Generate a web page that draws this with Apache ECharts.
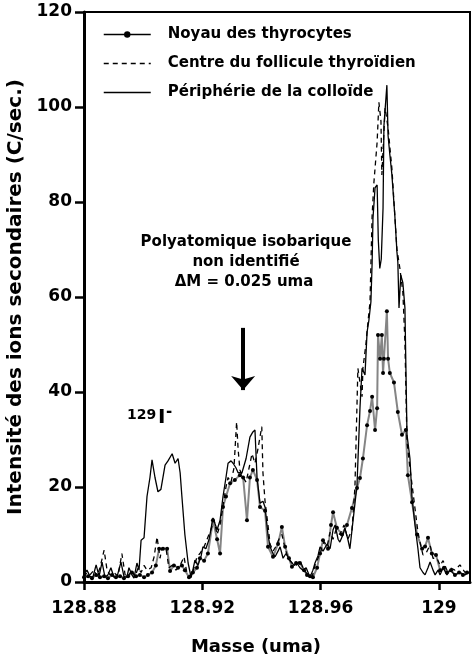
<!DOCTYPE html>
<html>
<head>
<meta charset="utf-8">
<script src="https://cdn.jsdelivr.net/npm/echarts@6/dist/echarts.min.js"></script>
<style>
  html, body { margin: 0; padding: 0; background: #fff; }
  #main { width: 474px; height: 662px; }
</style>
</head>
<body>
<div id="main"></div>
<script>
// tick labels
var xTicks = [128.88, 128.92, 128.96, 129];
var yTicks = [0, 20, 40, 60, 80, 100, 120];

var seriesNames = ['Noyau des thyrocytes', 'Centre du follicule thyroïdien', 'Périphérie de la colloïde'];

// [masse (uma), intensité (C/sec.)]
var noyau = [
  [128.8800,1.0],[128.8814,1.2],[128.8827,0.8],[128.8841,1.5],[128.8854,1.0],[128.8868,1.2],[128.8881,0.8],
  [128.8895,1.5],[128.8908,1.0],[128.8922,1.2],[128.8935,0.8],[128.8949,1.2],[128.8962,2.0],[128.8976,1.2],
  [128.8989,1.5],[128.9003,1.0],[128.9016,1.5],[128.9030,2.0],[128.9043,3.5],[128.9054,7],[128.9067,7],
  [128.9081,7],[128.9091,2.3],[128.9104,3.5],[128.9118,3.0],[128.9131,3.5],[128.9141,2.5],[128.9155,1.0],
  [128.9168,2.0],[128.9182,3.0],[128.9192,5.0],[128.9206,4.5],[128.9219,6],[128.9236,13],[128.9250,9],
  [128.9260,6],[128.9270,15.8],[128.9280,18],[128.9294,20.8],[128.9310,21.5],[128.9327,22.5],[128.9338,22],
  [128.9351,13],[128.9361,22],[128.9371,23.6],[128.9385,21.5],[128.9395,15.8],[128.9412,15],[128.9422,7.4],
  [128.9439,5.3],[128.9456,8],[128.9469,11.6],[128.9480,7.4],[128.9493,5],[128.9503,3.2],[128.9517,4],
  [128.9530,4],[128.9544,2.5],[128.9554,1.5],[128.9564,1.2],[128.9574,1],[128.9588,3],[128.9598,6],
  [128.9608,8.8],[128.9625,7],[128.9635,12],[128.9642,14.7],[128.9655,11.4],[128.9672,10],[128.9689,12],
  [128.9706,15.6],[128.9723,19.8],[128.9733,21.9],[128.9743,26],[128.9757,33],[128.9767,36],[128.9774,39],
  [128.9784,32],[128.9791,36.6],[128.9794,52],[128.9801,47],[128.9807,52],[128.9811,44],[128.9814,47],
  [128.9824,57],[128.9828,47],[128.9834,44],[128.9848,42],[128.9861,35.8],[128.9875,31],[128.9888,32],
  [128.9895,22.5],[128.9909,16.8],[128.9926,10],[128.9943,7],[128.9953,7.5],[128.9963,9.3],[128.9976,6],
  [128.9990,5.7],[129.0004,2.5],[129.0017,3],[129.0027,2],[129.0041,2.5],[129.0054,1.5],[129.0068,2.0],
  [129.0081,1.5],[129.0095,2.0]
];

var centre = [
  [128.8800,1.0],[128.8810,2.0],[128.8820,1.5],[128.8834,2.5],[128.8844,1.2],[128.8854,3.0],[128.8868,6.7],
  [128.8878,2.5],[128.8888,1.5],[128.8901,2.0],[128.8915,1.2],[128.8928,6.0],[128.8939,1.5],[128.8949,1.2],
  [128.8962,2.5],[128.8972,1.0],[128.8983,3.0],[128.8993,2.0],[128.9003,3.5],[128.9013,2.5],[128.9027,3.0],
  [128.9037,5.3],[128.9047,9.5],[128.9057,5.0],[128.9064,7.2],[128.9077,7.2],[128.9087,3.0],[128.9098,3.5],
  [128.9111,2.5],[128.9125,3.5],[128.9138,5.3],[128.9148,1.9],[128.9162,1.0],[128.9172,3.0],[128.9182,5.3],
  [128.9192,6.0],[128.9206,7.4],[128.9216,9],[128.9229,11],[128.9240,13],[128.9250,10],[128.9260,12],
  [128.9270,16],[128.9280,20],[128.9287,22],[128.9297,21],[128.9307,24],[128.9316,33.7],[128.9321,28],
  [128.9327,23.6],[128.9338,22],[128.9348,21],[128.9358,24],[128.9368,27],[128.9378,25],[128.9388,28],
  [128.9401,32.7],[128.9405,23],[128.9412,17],[128.9422,12],[128.9429,8],[128.9439,6.5],[128.9449,7.5],
  [128.9459,9],[128.9469,10],[128.9480,7],[128.9490,5],[128.9503,4],[128.9517,3.5],[128.9530,4.5],
  [128.9544,2.5],[128.9557,1.5],[128.9571,1.0],[128.9581,3.5],[128.9591,5],[128.9601,6.5],[128.9611,8.5],
  [128.9622,7.5],[128.9632,10.5],[128.9642,9],[128.9652,11],[128.9665,10],[128.9679,12],[128.9692,9],
  [128.9706,11],[128.9716,20],[128.9726,45],[128.9733,42],[128.9740,39],[128.9743,45],[128.9753,50],
  [128.9760,54.7],[128.9767,59],[128.9774,77],[128.9780,84],[128.9791,92.6],[128.9797,101],[128.9804,97],
  [128.9807,85.7],[128.9818,99.8],[128.9828,95.6],[128.9841,87],[128.9858,70],[128.9868,66],[128.9878,61],
  [128.9885,50.5],[128.9892,29.5],[128.9902,24],[128.9912,19],[128.9922,14],[128.9929,10.5],[128.9939,7.5],
  [128.9946,5.7],[128.9956,6],[128.9970,7.8],[128.9980,5],[128.9993,5.0],[129.0004,3.5],[129.0014,4.5],
  [129.0027,2.5],[129.0037,3.0],[129.0054,2.5],[129.0071,3.6],[129.0088,2.0],[129.0101,2.5]
];

var peripherie = [
  [128.8800,1.5],[128.8810,2.5],[128.8820,1.2],[128.8830,1.0],[128.8841,3.6],[128.8851,1.2],[128.8861,4.2],
  [128.8871,1.0],[128.8881,1.5],[128.8891,3.0],[128.8901,1.0],[128.8912,1.2],[128.8925,4.2],[128.8935,1.2],
  [128.8945,1.0],[128.8952,3.0],[128.8962,1.5],[128.8969,0.8],[128.8979,4.0],[128.8986,2.5],[128.8993,8.8],
  [128.9003,9.3],[128.9013,18],[128.9023,22],[128.9030,25.7],[128.9040,22],[128.9050,19],[128.9060,19.5],
  [128.9074,24.6],[128.9084,25.5],[128.9098,27],[128.9108,25],[128.9118,26],[128.9125,23],[128.9131,18],
  [128.9141,10],[128.9152,4],[128.9162,1],[128.9168,2.5],[128.9175,4.6],[128.9185,3.5],[128.9196,5.5],
  [128.9202,7.4],[128.9212,7],[128.9223,9],[128.9236,13.5],[128.9250,11],[128.9260,13],[128.9270,18],
  [128.9280,22],[128.9287,25],[128.9297,25.5],[128.9304,25],[128.9314,24],[128.9321,23],[128.9334,23],
  [128.9348,26],[128.9361,30.5],[128.9371,31.6],[128.9378,32],[128.9385,22],[128.9395,16.6],[128.9405,17],
  [128.9412,15.8],[128.9422,10],[128.9429,7.4],[128.9439,6],[128.9446,5.3],[128.9456,6.5],[128.9463,7.4],
  [128.9473,5],[128.9483,6],[128.9496,4.6],[128.9510,3.5],[128.9520,4],[128.9530,3.0],[128.9540,2.5],
  [128.9551,3.0],[128.9564,1],[128.9574,2.5],[128.9581,4],[128.9591,5.5],[128.9598,7.4],[128.9608,6.5],
  [128.9622,8],[128.9632,7],[128.9642,11],[128.9649,12],[128.9659,9],[128.9665,8.4],[128.9676,10],
  [128.9682,11.4],[128.9692,9],[128.9699,7],[128.9709,12.6],[128.9723,20.4],[128.9733,36.6],[128.9740,45],
  [128.9750,43.6],[128.9757,52.6],[128.9763,55],[128.9770,59],[128.9774,67],[128.9777,76.6],[128.9784,83],
  [128.9791,83.6],[128.9795,72],[128.9800,66],[128.9805,68],[128.9811,78.7],[128.9814,96],[128.9824,104.6],
  [128.9828,94],[128.9834,90],[128.9841,85.7],[128.9851,77],[128.9858,69.5],[128.9861,67.4],[128.9865,57.7],
  [128.9871,64.6],[128.9878,63],[128.9885,57.7],[128.9892,31],[128.9902,26],[128.9909,17.7],[128.9919,12],
  [128.9929,7],[128.9936,3],[128.9946,2],[128.9953,1.5],[128.9963,3],[128.9970,4.2],[128.9980,2.5],
  [128.9987,1.5],[128.9997,2.5],[129.0004,1.5],[129.0014,3],[129.0027,1.5],[129.0037,2.5],[129.0054,1.5],
  [129.0071,2.0],[129.0088,1.5],[129.0101,2.0]
];

// arrow pointing at the unidentified polyatomic peak (masse, start, tip)
var arrowMass = 128.9338;
var arrowFrom = 53.5;
var arrowTo = 40.4;

var FONT = 'DejaVu Sans';

var chart = echarts.init(document.getElementById('main'));

var option = {
  backgroundColor: '#fff',
  animation: false,
  grid: {
    left: 84, right: 4, top: 12, bottom: 80,
    outerBoundsMode: 'none',
    show: true, borderColor: '#000', borderWidth: 2
  },
  legend: {
    orient: 'vertical',
    left: 98, top: 22,
    itemWidth: 47, itemHeight: 8, itemGap: 14,
    textStyle: { fontFamily: FONT, fontWeight: 'bold', fontSize: 15, color: '#000', padding: [0, 0, 0, 12] },
    data: [
      { name: seriesNames[0], itemStyle: { color: '#000' }, lineStyle: { color: '#000', width: 1.5 } },
      { name: seriesNames[1], itemStyle: { opacity: 0 }, lineStyle: { color: '#000', width: 1.3, type: [5, 4], opacity: 1 } },
      { name: seriesNames[2], itemStyle: { opacity: 0 }, lineStyle: { color: '#000', width: 1.3, opacity: 1 } }
    ]
  },
  xAxis: {
    type: 'value',
    min: 128.88, max: 129.0105,
    name: 'Masse (uma)',
    nameLocation: 'middle', nameGap: 56,
    nameTextStyle: { fontFamily: FONT, fontWeight: 'bold', fontSize: 18, color: '#000', padding: [0, 42, 0, 0] },
    axisLine: { lineStyle: { color: '#000', width: 3 } },
    axisTick: { show: true, length: 8, lineStyle: { color: '#000', width: 2.5 }, customValues: xTicks },
    axisLabel: {
      fontFamily: FONT, fontWeight: 'bold', fontSize: 17, color: '#000', margin: 18,
      customValues: xTicks,
      formatter: function (v) { return String(+v.toFixed(2)); }
    },
    splitLine: { show: false }
  },
  yAxis: {
    type: 'value',
    min: 0, max: 120, interval: 20,
    name: 'Intensité des ions secondaires (C/sec.)',
    nameLocation: 'middle', nameGap: 57, nameRotate: 90,
    nameTextStyle: { fontFamily: FONT, fontWeight: 'bold', fontSize: 20, color: '#000' },
    axisLine: { show: true, lineStyle: { color: '#000', width: 3 } },
    axisTick: { show: true, length: 9, lineStyle: { color: '#000', width: 2.5 }, customValues: yTicks },
    axisLabel: { fontFamily: FONT, fontWeight: 'bold', fontSize: 17, color: '#000', margin: 12, customValues: yTicks },
    splitLine: { show: false }
  },
  series: [
    {
      name: seriesNames[0],
      type: 'line',
      data: noyau,
      symbol: 'circle', symbolSize: 4, showAllSymbol: true,
      itemStyle: { color: '#000' },
      lineStyle: { color: '#858585', width: 2 },
      z: 2
    },
    {
      name: seriesNames[1],
      type: 'line',
      data: centre,
      symbol: 'none',
      itemStyle: { color: '#000' },
      lineStyle: { color: '#000', width: 1.3, type: [5, 4] },
      z: 3
    },
    {
      name: seriesNames[2],
      type: 'line',
      data: peripherie,
      symbol: 'none',
      itemStyle: { color: '#000' },
      lineStyle: { color: '#000', width: 1.3 },
      z: 4,
      markLine: {
        silent: true,
        symbol: ['none', 'arrow'],
        symbolSize: [18, 14],
        label: { show: false },
        lineStyle: { color: '#000', width: 4, type: 'solid' },
        data: [[{ coord: [arrowMass, arrowFrom] }, { coord: [arrowMass, arrowTo] }]]
      }
    }
  ],
  graphic: [
    { type: 'text', x: 246, y: 242, style: { text: 'Polyatomique isobarique', fontFamily: FONT, fontWeight: 'bold', fontSize: 15, fill: '#000', align: 'center', verticalAlign: 'middle' } },
    { type: 'text', x: 246, y: 262, style: { text: 'non identifié', fontFamily: FONT, fontWeight: 'bold', fontSize: 15, fill: '#000', align: 'center', verticalAlign: 'middle' } },
    { type: 'text', x: 244, y: 282, style: { text: 'ΔM = 0.025 uma', fontFamily: FONT, fontWeight: 'bold', fontSize: 15, fill: '#000', align: 'center', verticalAlign: 'middle' } },
    { type: 'text', x: 127, y: 408, style: { text: '129', fontFamily: FONT, fontWeight: 'bold', fontSize: 14, fill: '#000' } },
    { type: 'text', x: 158, y: 408, style: { text: 'I', fontFamily: FONT, fontWeight: 'bold', fontSize: 20, fill: '#000' } },
    { type: 'text', x: 166, y: 405, style: { text: '-', fontFamily: FONT, fontWeight: 'bold', fontSize: 15, fill: '#000' } }
  ]
};

chart.setOption(option);
</script>
</body>
</html>
